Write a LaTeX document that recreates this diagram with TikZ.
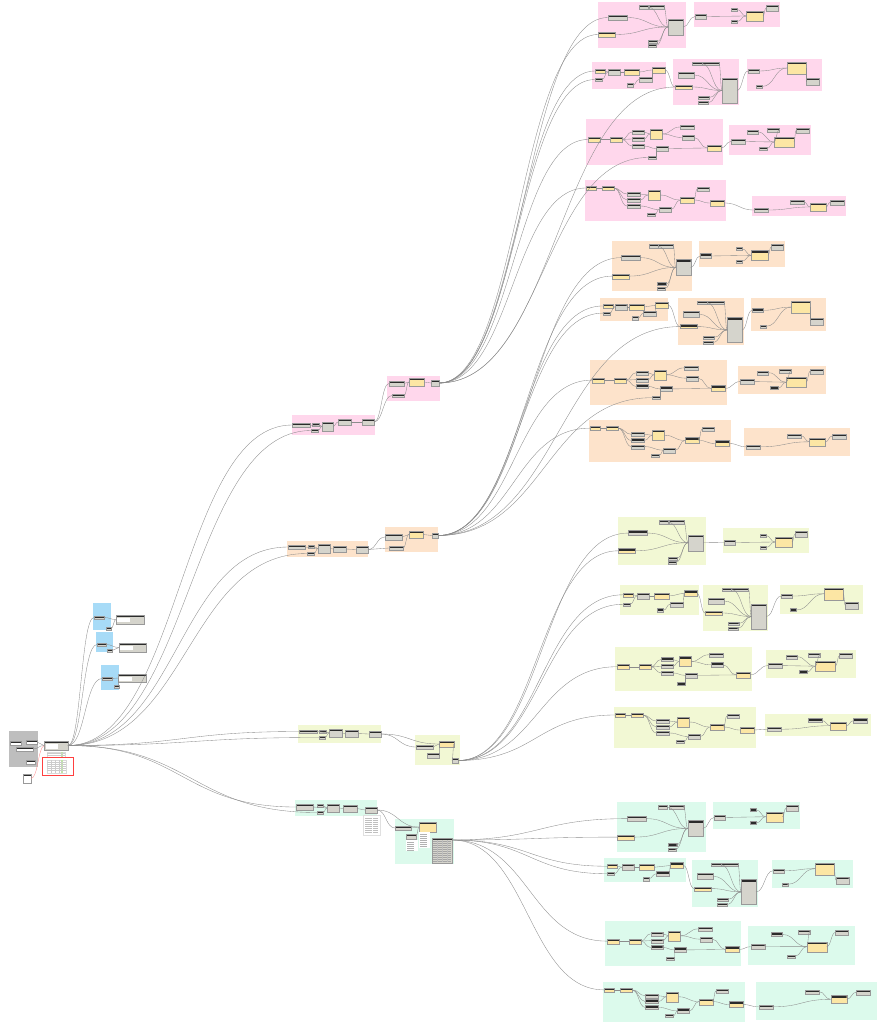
\documentclass[tikz,border=0pt]{standalone}
\usetikzlibrary{calc}
\definecolor{gpink}{HTML}{FFD7EC}
\definecolor{gpeach}{HTML}{FDE3CB}
\definecolor{gyel}{HTML}{F2F8D4}
\definecolor{gmint}{HTML}{DCFAEC}
\definecolor{gblue}{HTML}{A7DBF7}
\definecolor{ggrey}{HTML}{BEBEBE}
\definecolor{nbody}{HTML}{D5D4CC}
\definecolor{nhead}{HTML}{2B2B2B}
\definecolor{nyel}{HTML}{FCE6A4}
\definecolor{wirec}{HTML}{8C8C8C}
\definecolor{tgreen}{HTML}{BFE3A8}
\tikzset{
 nb/.style={draw=black!40, line width=0.15pt, fill=nbody, inner sep=0pt, outer sep=0pt, anchor=north west,
   path picture={\fill[nhead] (path picture bounding box.north west) rectangle ([yshift=-2.2pt]path picture bounding box.north east);}},
 ny/.style={nb, fill=nyel},
 nw/.style={nb, fill=white},
 wire/.style={draw=wirec, line width=0.35pt},
 grpbox/.style={inner sep=0pt, outer sep=0pt, anchor=north west},
}
\newcommand{\mynode}[6]{\node[#6, minimum width=#4pt, minimum height=#5pt] (#1) at (#2,#3) {};}
\newcommand{\mywire}[2]{\path ($(#1.east)!0.5!(#2.west)$) coordinate (wm);
  \draw[wire] (#1.east) .. controls (wm |- #1.east) and (wm |- #2.west) .. (#2.west);}
% ---- templates ----
\newcommand{\tA}[6]{\pgfmathsetmacro\sx{#5/88}\pgfmathsetmacro\sy{#6/46}%
\begin{scope}[shift={(#3,#4)},xscale=\sx,yscale=\sy]
\fill[#2] (0,0) rectangle (88,46);
\mynode{#1A1}{41}{3}{9}{4}{nb}\mynode{#1A2}{51}{3}{15}{4}{nb}\mynode{#1A3}{10}{13}{19}{5}{nb}
\mynode{#1A4}{0}{30}{17}{5}{ny}\mynode{#1A5}{70}{17}{15}{16}{nb}\mynode{#1A6}{50}{38}{9}{3}{nb}\mynode{#1A7}{50}{42}{8}{3}{nb}
\end{scope}
\mywire{#1A1}{#1A5}\mywire{#1A2}{#1A5}\mywire{#1A3}{#1A5}\mywire{#1A4}{#1A5}\mywire{#1A6}{#1A5}\mywire{#1A7}{#1A5}}
\newcommand{\tAA}[6]{\pgfmathsetmacro\sx{#5/86}\pgfmathsetmacro\sy{#6/25}%
\begin{scope}[shift={(#3,#4)},xscale=\sx,yscale=\sy]
\fill[#2] (0,0) rectangle (86,25);
\mynode{#1AA1}{1}{12}{11}{5}{nb}\mynode{#1AA2}{37}{6}{6}{3}{nb}\mynode{#1AA3}{37}{18}{6}{3}{nb}
\mynode{#1AA4}{52}{9}{17}{10}{ny}\mynode{#1AA5}{72}{3}{12}{6}{nb}
\end{scope}
\mywire{#1AA1}{#1AA4}\mywire{#1AA2}{#1AA4}\mywire{#1AA3}{#1AA4}\mywire{#1AA4}{#1AA5}}
\newcommand{\tB}[6]{\pgfmathsetmacro\sx{#5/74}\pgfmathsetmacro\sy{#6/27}%
\begin{scope}[shift={(#3,#4)},xscale=\sx,yscale=\sy]
\fill[#2] (0,0) rectangle (74,27);
\mynode{#1B1}{3}{7}{10}{4}{ny}\mynode{#1B2}{3}{16}{7}{3}{nb}\mynode{#1B3}{16}{7}{12}{6}{nb}
\mynode{#1B4}{32}{7}{15}{6}{ny}\mynode{#1B5}{47}{15}{13}{5}{nb}\mynode{#1B6}{35}{21}{6}{4}{nb}\mynode{#1B7}{60}{5}{13}{6}{ny}
\end{scope}
\mywire{#1B1}{#1B3}\mywire{#1B2}{#1B3}\mywire{#1B3}{#1B4}\mywire{#1B4}{#1B7}\mywire{#1B6}{#1B5}\mywire{#1B5}{#1B7}}
\newcommand{\tBB}[6]{\pgfmathsetmacro\sx{#5/66}\pgfmathsetmacro\sy{#6/46}%
\begin{scope}[shift={(#3,#4)},xscale=\sx,yscale=\sy]
\fill[#2] (0,0) rectangle (66,46);
\mynode{#1BB1}{19}{3}{10}{3}{nb}\mynode{#1BB2}{29}{3}{17}{3}{nb}\mynode{#1BB3}{5}{13}{16}{6}{nb}
\mynode{#1BB4}{2}{26}{17}{4}{ny}\mynode{#1BB5}{49}{19}{15}{25}{nb}\mynode{#1BB6}{25}{37}{11}{3}{nb}\mynode{#1BB7}{25}{42}{10}{3}{nb}
\end{scope}
\mywire{#1BB1}{#1BB5}\mywire{#1BB2}{#1BB5}\mywire{#1BB3}{#1BB5}\mywire{#1BB4}{#1BB5}\mywire{#1BB6}{#1BB5}\mywire{#1BB7}{#1BB5}}
\newcommand{\tBBB}[6]{\pgfmathsetmacro\sx{#5/75}\pgfmathsetmacro\sy{#6/32}%
\begin{scope}[shift={(#3,#4)},xscale=\sx,yscale=\sy]
\fill[#2] (0,0) rectangle (75,32);
\mynode{#1BBB1}{1}{10}{11}{4}{nb}\mynode{#1BBB2}{9}{26}{6}{3}{nb}\mynode{#1BBB3}{40}{3}{19}{12}{ny}\mynode{#1BBB4}{59}{19}{13}{7}{nb}
\end{scope}
\mywire{#1BBB1}{#1BBB3}\mywire{#1BBB2}{#1BBB3}\mywire{#1BBB3}{#1BBB4}}
\newcommand{\tC}[6]{\pgfmathsetmacro\sx{#5/137}\pgfmathsetmacro\sy{#6/46}%
\begin{scope}[shift={(#3,#4)},xscale=\sx,yscale=\sy]
\fill[#2] (0,0) rectangle (137,46);
\mynode{#1C1}{2}{18}{12}{5}{ny}\mynode{#1C2}{24}{18}{12}{5}{ny}\mynode{#1C3}{46}{11}{12}{4}{nb}
\mynode{#1C4}{46}{18}{12}{4}{nb}\mynode{#1C5}{46}{25}{12}{4}{nb}\mynode{#1C6}{64}{10}{12}{10}{ny}
\mynode{#1C7}{70}{27}{12}{5}{nb}\mynode{#1C8}{94}{6}{14}{4}{nb}\mynode{#1C9}{96}{16}{12}{5}{nb}
\mynode{#1C10}{121}{26}{14}{6}{ny}\mynode{#1C11}{62}{37}{8}{3}{nb}
\end{scope}
\mywire{#1C1}{#1C2}\mywire{#1C2}{#1C3}\mywire{#1C2}{#1C4}\mywire{#1C2}{#1C5}\mywire{#1C3}{#1C6}\mywire{#1C4}{#1C6}
\mywire{#1C5}{#1C7}\mywire{#1C6}{#1C8}\mywire{#1C6}{#1C9}\mywire{#1C7}{#1C10}\mywire{#1C9}{#1C10}\mywire{#1C11}{#1C7}}
\newcommand{\tCC}[6]{\pgfmathsetmacro\sx{#5/82}\pgfmathsetmacro\sy{#6/30}%
\begin{scope}[shift={(#3,#4)},xscale=\sx,yscale=\sy]
\fill[#2] (0,0) rectangle (82,30);
\mynode{#1CC1}{2}{14}{14}{5}{nb}\mynode{#1CC2}{18}{5}{11}{4}{nb}\mynode{#1CC3}{38}{3}{12}{4}{nb}
\mynode{#1CC4}{45}{12}{20}{10}{ny}\mynode{#1CC5}{67}{3}{13}{5}{nb}\mynode{#1CC6}{30}{22}{8}{3}{nb}
\end{scope}
\mywire{#1CC1}{#1CC4}\mywire{#1CC2}{#1CC4}\mywire{#1CC3}{#1CC4}\mywire{#1CC6}{#1CC4}\mywire{#1CC4}{#1CC5}}
\newcommand{\tD}[6]{\pgfmathsetmacro\sx{#5/141}\pgfmathsetmacro\sy{#6/41}%
\begin{scope}[shift={(#3,#4)},xscale=\sx,yscale=\sy]
\fill[#2] (0,0) rectangle (141,41);
\mynode{#1D1}{1}{6}{10}{4}{ny}\mynode{#1D2}{17}{6}{12}{4}{ny}\mynode{#1D3}{42}{12}{13}{4}{nb}
\mynode{#1D4}{42}{18}{13}{4}{nb}\mynode{#1D5}{42}{24}{13}{4}{nb}\mynode{#1D6}{63}{10}{12}{10}{ny}
\mynode{#1D7}{74}{27}{12}{5}{nb}\mynode{#1D8}{95}{17}{14}{6}{ny}\mynode{#1D9}{112}{7}{12}{4}{nb}
\mynode{#1D10}{125}{20}{14}{6}{ny}\mynode{#1D11}{62}{33}{8}{3}{nb}
\end{scope}
\mywire{#1D1}{#1D2}\mywire{#1D2}{#1D3}\mywire{#1D2}{#1D4}\mywire{#1D2}{#1D5}\mywire{#1D3}{#1D6}\mywire{#1D4}{#1D6}
\mywire{#1D5}{#1D7}\mywire{#1D6}{#1D8}\mywire{#1D7}{#1D8}\mywire{#1D8}{#1D9}\mywire{#1D8}{#1D10}\mywire{#1D11}{#1D7}}
\newcommand{\tDD}[6]{\pgfmathsetmacro\sx{#5/94}\pgfmathsetmacro\sy{#6/20}%
\begin{scope}[shift={(#3,#4)},xscale=\sx,yscale=\sy]
\fill[#2] (0,0) rectangle (94,20);
\mynode{#1DD1}{2}{12}{14}{4}{nb}\mynode{#1DD2}{38}{4}{14}{4}{nb}\mynode{#1DD3}{58}{7}{16}{8}{ny}\mynode{#1DD4}{78}{4}{14}{5}{nb}
\end{scope}
\mywire{#1DD1}{#1DD3}\mywire{#1DD2}{#1DD3}\mywire{#1DD3}{#1DD4}}
\newcommand{\links}[1]{\mywire{#1A5}{#1AA1}\mywire{#1B7}{#1BB4}\mywire{#1BB5}{#1BBB1}\mywire{#1C10}{#1CC1}\mywire{#1D10}{#1DD1}}
\begin{document}
\begin{tikzpicture}[x=1pt,y=-1pt]
\fill[white] (0,0) rectangle (877,1024);
\useasboundingbox (0,0) rectangle (877,1024);
% ===== left start =====
\fill[ggrey] (9,731) rectangle (38,767);
\mynode{gr1}{10}{741}{11}{4}{nw}\mynode{gr2}{26}{740}{11}{4}{nw}
\mynode{gr3}{16}{747}{17}{4}{nw}\mynode{gr4}{26}{760}{9}{4}{nw}
\mynode{src}{44}{741}{24}{9}{nb}
\fill[white] (45.5,744) rectangle (58,749);
\mynode{sm}{23}{774}{8}{9}{nw}
\mywire{gr2}{src}\mywire{gr3}{src}
\draw[red!45, line width=0.35pt] (sm.east) .. controls (38,778) and (38,748) .. (src.west);
% small table and red box
\node[grpbox, draw=black!15, fill=white, minimum width=18pt, minimum height=5pt] (tab1) at (47,752) {};
\fill[tgreen] (61,752) rectangle (63,757);
\foreach \yy in {753.5,755} \draw[black!20, line width=0.2pt] (47,\yy) -- (65,\yy);
\node[grpbox, draw=red!75, line width=0.5pt, minimum width=31pt, minimum height=18pt] (redbox) at (42,757) {};
\node[grpbox, draw=black!15, fill=white, minimum width=19pt, minimum height=13pt] (tab2) at (47,760) {};
\fill[tgreen] (61,760) rectangle (63,773);
\foreach \yy in {762,764,766,768,770} \draw[black!20, line width=0.2pt] (47,\yy) -- (66,\yy);
\foreach \xx in {51,55,59} \draw[black!20, line width=0.2pt] (\xx,760) -- (\xx,773);
% ===== blue groups =====
\fill[gblue] (93,603) rectangle (111,630);
\fill[gblue] (96,632) rectangle (113,652);
\fill[gblue] (101,665) rectangle (119,690);
\mynode{bl1a}{94}{616}{10}{3}{nb}\mynode{bl1b}{106}{627}{5}{3}{nb}\mynode{bl1c}{116}{615}{28}{9}{nb}
\mynode{bl2a}{97}{643}{9}{3}{nb}\mynode{bl2b}{107}{649}{5}{3}{nb}\mynode{bl2c}{119}{643}{27}{9}{nb}
\mynode{bl3a}{102}{677}{10}{3}{nb}\mynode{bl3b}{114}{685}{5}{3}{nb}\mynode{bl3c}{118}{674}{28}{8}{nb}
\fill[white] (117,618) rectangle (130,622);\fill[white] (120,646) rectangle (133,650);\fill[white] (119,677) rectangle (132,680.5);
\mywire{bl1a}{bl1c}\mywire{bl1b}{bl1c}\mywire{bl2a}{bl2c}\mywire{bl2b}{bl2c}\mywire{bl3a}{bl3c}\mywire{bl3b}{bl3c}
% ===== pink L1/L2 =====
\fill[gpink] (292,415) rectangle (375,435);
\mynode{pk1a}{292}{423}{18}{4}{nb}\mynode{pk1b}{312}{423}{7}{3}{nb}\mynode{pk1c}{311}{429}{7}{3}{nb}
\mynode{pk1d}{322}{422}{11}{9}{nb}\mynode{pk1e}{338}{419}{13}{6}{nb}\mynode{pk1f}{362}{419}{12}{6}{nb}
\mywire{pk1a}{pk1d}\mywire{pk1b}{pk1d}\mywire{pk1c}{pk1d}\mywire{pk1d}{pk1e}\mywire{pk1e}{pk1f}
\fill[gpink] (387,376) rectangle (440,401);
\mynode{pk2a}{389}{381}{15}{5}{nb}\mynode{pk2b}{392}{394}{12}{3}{nb}\mynode{pk2c}{409}{378}{15}{8}{ny}\mynode{pk2d}{431}{380}{8}{6}{nb}
\mywire{pk1f}{pk2a}\mywire{pk1f}{pk2b}\mywire{pk2a}{pk2c}\mywire{pk2b}{pk2c}\mywire{pk2c}{pk2d}
% ===== peach L1/L2 =====
\fill[gpeach] (287,541) rectangle (368,557);
\mynode{pc1a}{288}{545}{17}{4}{nb}\mynode{pc1b}{308}{545}{6}{3}{nb}\mynode{pc1c}{307}{552}{7}{3}{nb}
\mynode{pc1d}{318}{544}{12}{9}{nb}\mynode{pc1e}{333}{546}{13}{6}{nb}\mynode{pc1f}{356}{546}{12}{7}{nb}
\mywire{pc1a}{pc1d}\mywire{pc1b}{pc1d}\mywire{pc1c}{pc1d}\mywire{pc1d}{pc1e}\mywire{pc1e}{pc1f}
\fill[gpeach] (385,527) rectangle (438,552);
\mynode{pc2a}{385}{534}{17}{6}{nb}\mynode{pc2b}{389}{546}{14}{4}{nb}\mynode{pc2c}{409}{531}{14}{7}{ny}\mynode{pc2d}{432}{533}{6}{5}{nb}
\mywire{pc1f}{pc2a}\mywire{pc1f}{pc2b}\mywire{pc2a}{pc2c}\mywire{pc2b}{pc2c}\mywire{pc2c}{pc2d}
% ===== yellow L1/L2 =====
\fill[gyel] (298,725) rectangle (381,743);
\mynode{yg1a}{299}{730}{18}{3}{nb}\mynode{yg1b}{319}{730}{7}{3}{nb}\mynode{yg1c}{319}{736}{6}{3}{nb}
\mynode{yg1d}{329}{729}{13}{8}{nb}\mynode{yg1e}{345}{730}{13}{7}{nb}\mynode{yg1f}{369}{731}{12}{6}{nb}
\mywire{yg1a}{yg1d}\mywire{yg1b}{yg1d}\mywire{yg1c}{yg1d}\mywire{yg1d}{yg1e}\mywire{yg1e}{yg1f}
\fill[gyel] (415,735) rectangle (460,765);
\mynode{yg2a}{416}{745}{17}{4}{nb}\mynode{yg2b}{427}{753}{12}{5}{nb}\mynode{yg2c}{439}{741}{15}{6}{ny}\mynode{yg2d}{452}{758}{6}{5}{nb}
\mywire{yg1f}{yg2a}\mywire{yg1f}{yg2c}\mywire{yg2a}{yg2c}\mywire{yg2b}{yg2c}\mywire{yg2c}{yg2d}
% ===== mint L1/L2 =====
\fill[gmint] (295,800) rectangle (377,816);
\mynode{mt1a}{296}{804}{17}{6}{nb}\mynode{mt1b}{317}{804}{6}{3}{nb}\mynode{mt1c}{317}{811}{6}{3}{nb}
\mynode{mt1d}{327}{804}{12}{8}{nb}\mynode{mt1e}{343}{805}{14}{7}{nb}\mynode{mt1f}{365}{807}{12}{6}{nb}
\mywire{mt1a}{mt1d}\mywire{mt1b}{mt1d}\mywire{mt1c}{mt1d}\mywire{mt1d}{mt1e}\mywire{mt1e}{mt1f}
\node[grpbox, draw=black!12, fill=white, minimum width=17pt, minimum height=20pt] (mtlist) at (363,815) {};
\foreach \yy in {818,820,...,833} \draw[black!25, line width=0.3pt] (365,\yy) -- (372,\yy) (373,\yy) -- (378,\yy);
\fill[gmint] (395,819) rectangle (454,864);
\mynode{mt2a}{395}{826}{16}{4}{nb}\mynode{mt2b}{406}{834}{10}{5}{nb}\mynode{mt2c}{419}{822}{17}{10}{ny}
\node[grpbox, fill=white, minimum width=12pt, minimum height=11pt] (mtt1) at (406,840) {};
\node[grpbox, fill=white, minimum width=11pt, minimum height=16pt] (mtt2) at (419,832) {};
\foreach \yy in {842,844,...,850} \draw[black!30, line width=0.3pt] (407,\yy) -- (414,\yy);
\foreach \yy in {834,836,...,846} \draw[black!30, line width=0.3pt] (420,\yy) -- (427,\yy);
\mynode{mt2d}{432}{838}{20}{25}{nb}
\foreach \yy in {841,843,...,861} \draw[black!35, line width=0.25pt] (433,\yy) -- (451,\yy);
\foreach \xx in {437,442,447} \draw[black!25, line width=0.25pt] (\xx,840) -- (\xx,862);
\node[inner sep=0pt, outer sep=0pt, minimum size=0pt] (mto) at (452,840) {};
\mywire{mt1f}{mt2a}\mywire{mt1f}{mt2c}\mywire{mt2a}{mt2c}\mywire{mt2b}{mt2c}
% ===== level 3 groups =====
\tA{pk}{gpink}{598}{2}{88}{46}\tAA{pk}{gpink}{694}{2}{86}{25}
\tB{pk}{gpink}{592}{62}{74}{27}\tBB{pk}{gpink}{673}{59}{66}{46}\tBBB{pk}{gpink}{747}{59}{75}{32}
\tC{pk}{gpink}{586}{119}{137}{46}\tCC{pk}{gpink}{729}{125}{82}{30}
\tD{pk}{gpink}{585}{180}{141}{41}\tDD{pk}{gpink}{752}{196}{94}{20}
\links{pk}
\tA{pc}{gpeach}{612}{241}{80}{50}\tAA{pc}{gpeach}{699}{241}{86}{26}
\tB{pc}{gpeach}{600}{298}{68}{23}\tBB{pc}{gpeach}{678}{298}{66}{47}\tBBB{pc}{gpeach}{751}{298}{75}{33}
\tC{pc}{gpeach}{590}{360}{137}{45}\tCC{pc}{gpeach}{738}{366}{88}{28}
\tD{pc}{gpeach}{589}{420}{142}{42}\tDD{pc}{gpeach}{744}{428}{106}{28}
\links{pc}
\tA{yg}{gyel}{618}{517}{88}{48}\tAA{yg}{gyel}{723}{528}{86}{25}
\tB{yg}{gyel}{620}{585}{79}{30}\tBB{yg}{gyel}{703}{585}{65}{46}\tBBB{yg}{gyel}{780}{585}{83}{29}
\tC{yg}{gyel}{615}{647}{137}{44}\tCC{yg}{gyel}{766}{650}{90}{28}
\tD{yg}{gyel}{614}{707}{142}{41}\tDD{yg}{gyel}{765}{714}{106}{22}
\links{yg}
\tA{mt}{gmint}{617}{802}{89}{50}\tAA{mt}{gmint}{713}{802}{87}{27}
\tB{mt}{gmint}{604}{858}{82}{24}\tBB{mt}{gmint}{692}{860}{66}{47}\tBBB{mt}{gmint}{772}{860}{81}{28}
\tC{mt}{gmint}{605}{921}{136}{45}\tCC{mt}{gmint}{748}{926}{107}{39}
\tD{mt}{gmint}{603}{982}{142}{40}\tDD{mt}{gmint}{756}{982}{121}{38}
\links{mt}
% ===== fans =====
\mywire{src}{pk1a}\mywire{src}{pk1c}\mywire{src}{pc1a}\mywire{src}{pc1c}
\mywire{src}{yg1a}\mywire{src}{yg1c}\mywire{src}{mt1a}\mywire{src}{mt1c}
\mywire{src}{bl1a}\mywire{src}{bl2a}\mywire{src}{bl3a}
\mywire{pk2d}{pkA4}\mywire{pk2d}{pkA3}\mywire{pk2d}{pkB1}\mywire{pk2d}{pkB2}
\mywire{pk2d}{pkBB4}\mywire{pk2d}{pkC1}\mywire{pk2d}{pkD1}\mywire{pk2d}{pkC11}
\mywire{pc2d}{pcA4}\mywire{pc2d}{pcA3}\mywire{pc2d}{pcB1}\mywire{pc2d}{pcB2}
\mywire{pc2d}{pcBB4}\mywire{pc2d}{pcC1}\mywire{pc2d}{pcD1}\mywire{pc2d}{pcC11}
\mywire{yg2d}{ygA4}\mywire{yg2d}{ygA3}\mywire{yg2d}{ygB1}\mywire{yg2d}{ygB2}
\mywire{yg2d}{ygC1}\mywire{yg2d}{ygD1}
\mywire{mto}{mtA4}\mywire{mto}{mtA3}\mywire{mto}{mtB1}\mywire{mto}{mtB2}
\mywire{mto}{mtC1}\mywire{mto}{mtD1}
\end{tikzpicture}
\end{document}
